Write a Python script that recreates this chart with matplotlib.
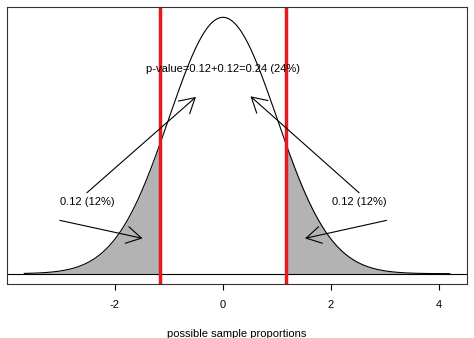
import numpy as np
import matplotlib
matplotlib.use("Agg")
import matplotlib.pyplot as plt

plt.rcParams['font.family'] = ['Liberation Sans', 'DejaVu Sans']

# 分布参数和数据
mu = 0.0
sd = 1.0
cutoff = 1.175          # 单尾 0.12 对应的临界值
x_range = (-3.68, 4.2)  # 曲线绘制范围
tick_vals = [-2, 0, 2, 4]
tail_label = "0.12 (12%)"
pvalue_label = "p-value=0.12+0.12=0.24 (24%)"
xlabel_text = "possible sample proportions"

# 注释位置 (文字, 箭头起点/终点)
pvalue_pos = (0.0, 0.319)
tail_text_pos = [(-2.51, 0.112), (2.53, 0.112)]
upper_arrows = [((-2.52, 0.126), (-0.50, 0.275)), ((2.52, 0.126), (0.51, 0.276))]
lower_arrows = [((-3.02, 0.083), (-1.49, 0.055)), ((3.03, 0.083), (1.52, 0.055))]


def dnorm(x):
    return np.exp(-0.5 * ((x - mu) / sd) ** 2) / (sd * np.sqrt(2 * np.pi))


fig = plt.figure(figsize=(4.74, 3.38), dpi=100)
ax = fig.add_axes([7 / 474, 1 - 284 / 338, 460 / 474, 277 / 338])

xs = np.linspace(x_range[0], x_range[1], 600)
ys = dnorm(xs)

# 阴影尾部
left = xs <= -cutoff
right = xs >= cutoff
ax.fill_between(np.append(xs[left], -cutoff), 0, np.append(ys[left], dnorm(-cutoff)),
                color='#B3B3B3', lw=0)
ax.fill_between(np.insert(xs[right], 0, cutoff), 0, np.insert(ys[right], 0, dnorm(cutoff)),
                color='#B3B3B3', lw=0)

ax.plot(xs, ys, color='black', lw=0.8)
ax.axhline(0, color='black', lw=0.8)
for v in (-cutoff, cutoff):
    ax.axvline(v, color='#E41A1C', lw=2.5)

ax.text(pvalue_pos[0], pvalue_pos[1], pvalue_label, ha='center', va='center', fontsize=8)
for (tx, ty) in tail_text_pos:
    ax.text(tx, ty, tail_label, ha='center', va='center', fontsize=8)

arrow_kw = dict(arrowstyle='->,head_length=1.06,head_width=0.61', color='black',
                lw=0.8, shrinkA=0, shrinkB=0, mutation_scale=10)
for (start, end) in upper_arrows + lower_arrows:
    ax.annotate('', xy=end, xytext=start, arrowprops=arrow_kw)

ax.set_xlim(-4.0, 4.52)
ax.set_ylim(-0.016, 0.415)
ax.set_xticks(tick_vals)
ax.set_xticklabels([str(t) for t in tick_vals], fontsize=8)
ax.set_yticks([])
ax.tick_params(axis='x', direction='out', length=4.3, width=0.8, pad=7)
for s in ax.spines.values():
    s.set_linewidth(0.8)
    s.set_color('#333333')
ax.set_xlabel(xlabel_text, fontsize=8, labelpad=14)

fig.savefig("out.png", dpi=100)
